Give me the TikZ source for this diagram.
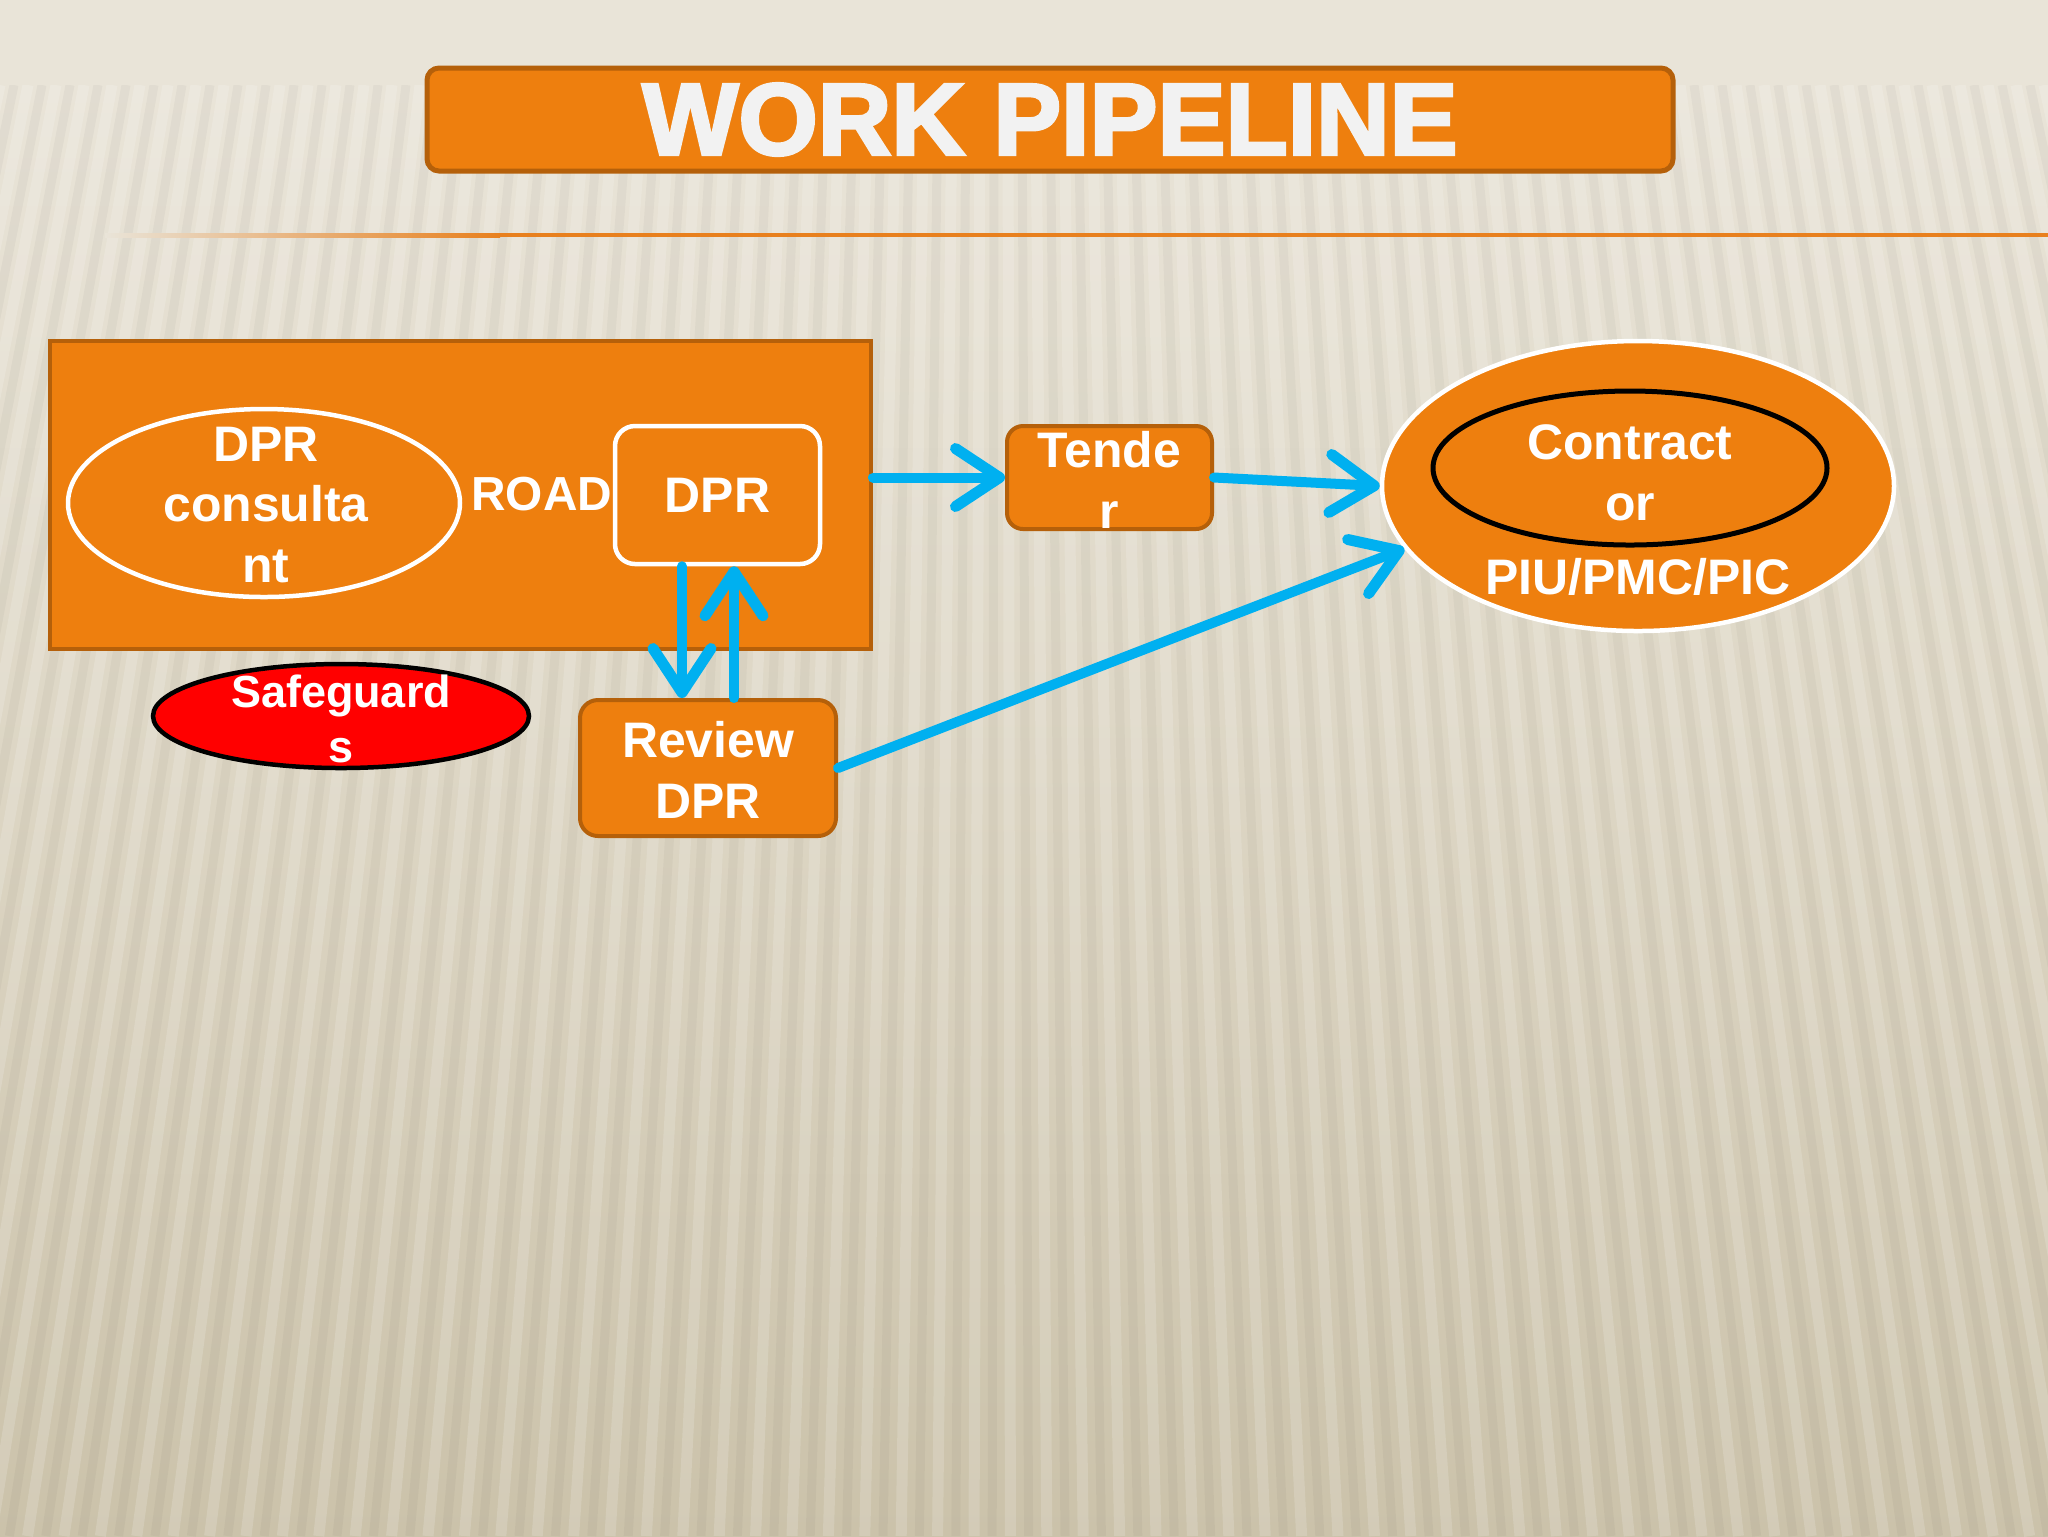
\documentclass[tikz,border=0pt]{standalone}
\usepackage{fontspec}
\setmainfont{Liberation Sans}
\newfontfamily\heavyfont{Liberation Sans}[UprightFont=* Bold, UprightFeatures={FakeBold=3}]
\usetikzlibrary{shapes.geometric, arrows.meta, calc}
\definecolor{orng}{HTML}{EE7F0E}
\definecolor{orbd}{HTML}{B5600A}
\definecolor{blu}{HTML}{00B0F0}
\definecolor{bgtop}{HTML}{E9E4D8}
\definecolor{bgmid}{HTML}{DCD5C3}
\definecolor{bgbot}{HTML}{CBC2AA}
\definecolor{lineor}{HTML}{E8801E}
\tikzset{
  txt/.style={text=white, font=\bfseries\fontsize{14.2}{17.3}\selectfont, align=center, inner sep=0pt},
  obox/.style={draw=orbd, fill=orng, line width=0.4mm, inner sep=0pt},
  wbox/.style={draw=white, fill=orng, line width=0.45mm, inner sep=0pt},
  conn/.style={draw=blu, line width=1.0mm, line cap=round, -{Straight Barb[length=4.4mm,width=5.8mm,round,line width=1.1mm]}},
  stripe/.style={draw=white, opacity=0.16, line width=1.1mm},
  shadowline/.style={draw=black, opacity=0.03, line width=0.9mm}
}
\begin{document}
\begin{tikzpicture}[x=0.1mm, y=-0.1mm]
\useasboundingbox (0,0) rectangle (2048,1536);
% background
\fill[bgtop] (0,0) rectangle (2048,1536);
\shade[top color=bgtop, bottom color=bgbot, middle color=bgmid] (0,85) rectangle (2048,1536);
\begin{scope}
  \clip (0,85) rectangle (2048,1536);
  \foreach \t in {-700,-672,...,2800} {
    \draw[stripe] (\t,85) -- ({1000+(\t-1000)*1.3},1536);
    \draw[shadowline] (\t+14,85) -- ({1000+(\t+14-1000)*1.3},1536);
  }
\end{scope}
% orange rule
\shade[left color=bgtop, right color=lineor] (105,233) rectangle (500,237);
\fill[lineor] (500,233) rectangle (2048,237);
% title
\node[obox, line width=0.5mm, rounded corners=1.2mm, minimum width=124.6mm, minimum height=10.3mm] (title) at (1050,119.5) {};
\node[text=white!95!black, inner sep=0pt, font=\heavyfont\fontsize{29}{30}\selectfont] (titleT) at (title.center) {WORK PIPELINE};
% big road box
\node[obox, minimum width=82.1mm, minimum height=30.8mm] (road) at (460.5,495) {};
\node[wbox, ellipse, minimum width=39.2mm, minimum height=18.8mm] (cons) at (264,503) {};
\node[txt] (consT) at (266,505) {DPR\\consulta\\nt};
\node[wbox, rounded corners=2mm, minimum width=20.5mm, minimum height=13.8mm] (dpr) at (717.5,495) {};
\node[txt] (dprT) at (dpr.center) {DPR};
\node[txt, font=\bfseries\fontsize{13.6}{16}\selectfont, anchor=east] (roadT) at ([yshift=0.1mm]dpr.west) {ROAD};
% tender
\node[obox, rounded corners=1.6mm, minimum width=20.5mm, minimum height=10.3mm] (tender) at (1109.5,477.5) {};
\node[txt] (tenderT) at (1109.5,480) {Tende\\r};
% review
\node[obox, rounded corners=1.8mm, minimum width=25.6mm, minimum height=13.6mm] (review) at (708,768) {};
\node[txt] (reviewT) at (708,770) {Review\\DPR};
% safeguards
\node[ellipse, draw=black, fill=red, line width=0.45mm, inner sep=0pt, minimum width=37.6mm, minimum height=10.4mm] (safe) at (341,716) {};
\node[txt, font=\bfseries\fontsize{12.8}{15.8}\selectfont] (safeT) at (341,719) {Safeguard\\s};
% contractor
\node[wbox, ellipse, minimum width=51.2mm, minimum height=29mm] (contract) at (1638,486) {};
\node[ellipse, draw=black, line width=0.5mm, inner sep=0pt, minimum width=39.4mm, minimum height=15.4mm] (inner) at (1630,468) {};
\node[txt] (innerT) at (1630,473) {Contract\\or};
\node[txt] (piuT) at (1638,577) {PIU/PMC/PIC};
% connectors
\coordinate (d1) at (682,0);
\coordinate (d2) at (734,0);
\draw[conn] (road.east |- tender.west) -- (tender.west);
\draw[conn] (tender.east) -- (contract.west);
\draw[conn] (review.east) -- (contract.195);
\draw[conn] (d1 |- dpr.south) -- (d1 |- review.north);
\draw[conn] (d2 |- review.north) -- (d2 |- dpr.south);
\end{tikzpicture}
\end{document}
